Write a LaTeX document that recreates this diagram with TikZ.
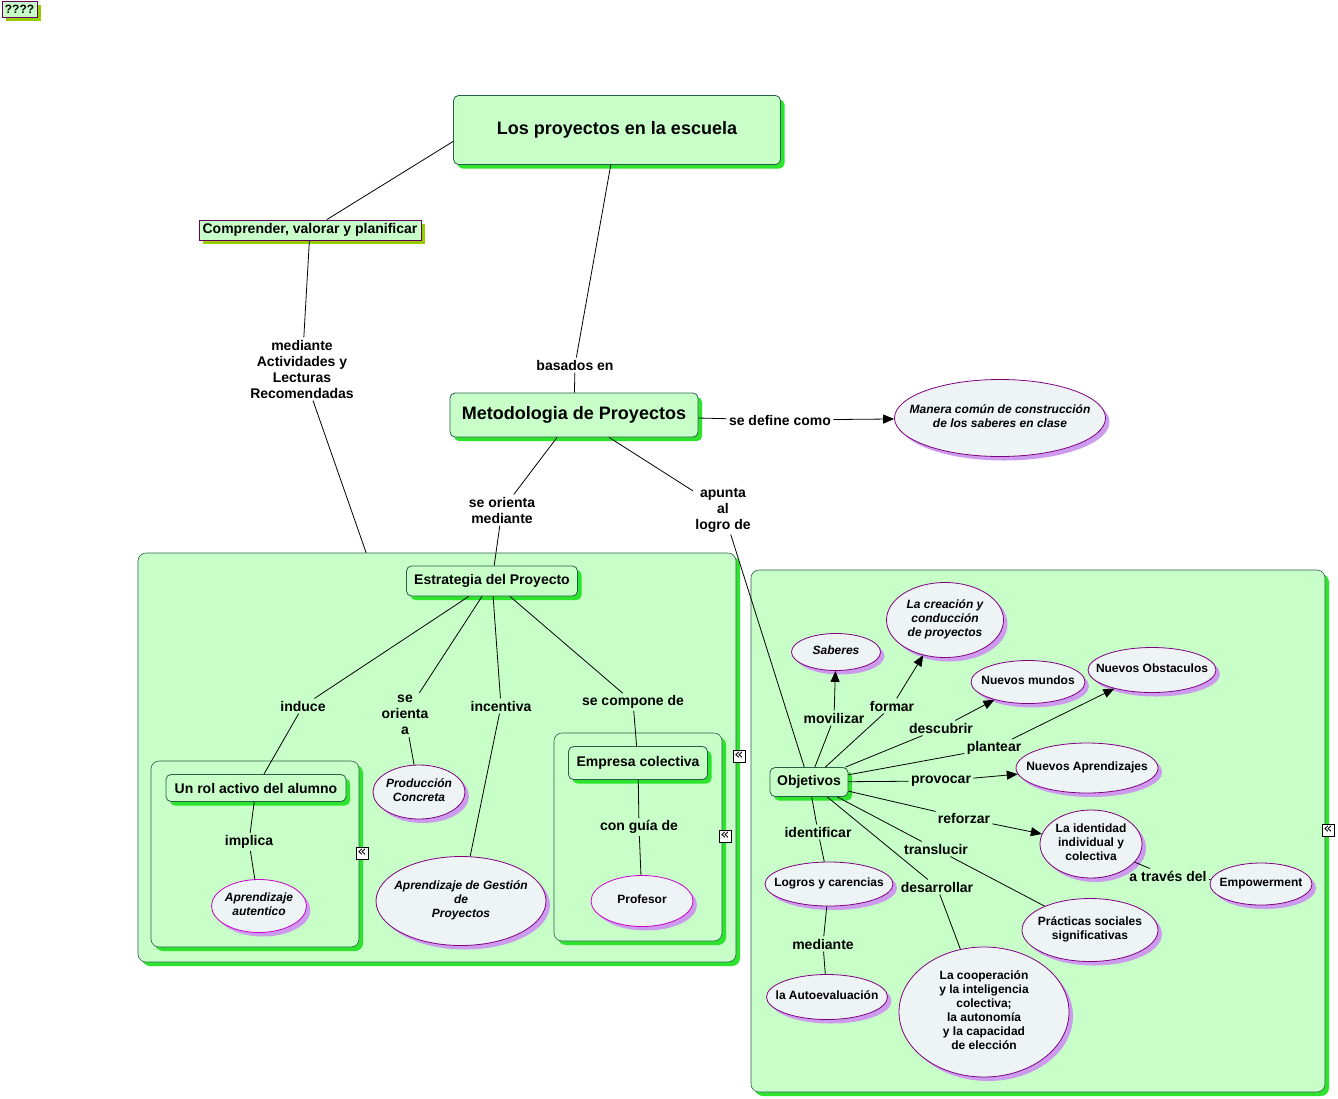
\documentclass[tikz,border=0pt]{standalone}
\usepackage{fontspec}
\setmainfont{Liberation Sans}
\newfontfamily\symfont{DejaVu Sans}
\usepackage{tikz}
\usetikzlibrary{shapes.geometric,shadows,arrows.meta}

\definecolor{conceptfill}{RGB}{200,255,200}
\definecolor{conceptline}{RGB}{40,95,75}
\definecolor{conceptshadow}{RGB}{45,228,45}
\definecolor{ideafill}{RGB}{238,243,246}
\definecolor{idealine}{RGB}{128,0,128}
\definecolor{ideapink}{RGB}{205,0,205}
\definecolor{ideashadow}{RGB}{205,155,238}
\definecolor{tagline}{RGB}{100,0,100}
\definecolor{tagshadow}{RGB}{150,205,0}

\newcommand{\ideatext}[1]{\makebox[0pt]{\begin{tabular}{@{}c@{}}#1\end{tabular}}}

\tikzset{
	concept/.style={draw=conceptline, fill=conceptfill, rounded corners=5pt, line width=0.8pt,
		font=\bfseries\fontsize{14}{16}\selectfont, align=center, inner sep=2pt,
		drop shadow={shadow xshift=4pt, shadow yshift=-4pt, fill=conceptshadow, opacity=1}},
	groupbox/.style={draw=conceptline, fill=conceptfill, rounded corners=8pt, line width=0.6pt, inner sep=0pt,
		drop shadow={shadow xshift=4pt, shadow yshift=-4pt, fill=conceptshadow, opacity=1}},
	tagbox/.style={draw=tagline, fill=conceptfill, line width=0.8pt, inner sep=2pt,
		font=\bfseries\fontsize{14}{16}\selectfont,
		drop shadow={shadow xshift=4pt, shadow yshift=-4pt, fill=tagshadow, opacity=1}},
	idea/.style={ellipse, draw=idealine, fill=ideafill, line width=0.8pt, inner sep=0pt,
		font=\bfseries\fontsize{12}{14}\selectfont,
		drop shadow={shadow xshift=4pt, shadow yshift=-4pt, fill=ideashadow, opacity=1}},
	ideait/.style={idea, font=\bfseries\itshape\fontsize{12}{14}\selectfont},
	linklabel/.style={font=\bfseries\fontsize{14}{16}\selectfont, align=center, inner sep=2pt},
	fold/.style={draw=black, fill=white, line width=0.8pt, minimum size=12pt, inner sep=0pt,
		font=\symfont\fontsize{15}{15}\selectfont},
	arr/.style={-{Triangle[length=11pt,width=9pt]}},
}

\begin{document}
\begin{tikzpicture}[x=1pt,y=-1pt,line width=0.8pt]
		\useasboundingbox (0,0) rectangle (1338,1098);

		% >>> containers
		\node[groupbox, minimum width=598pt, minimum height=409pt] (leftgroup) at (437,757.5) {};
		\node[groupbox, minimum width=574pt, minimum height=522pt] (rightgroup) at (1038,831) {};
		\node[groupbox, minimum width=208pt, minimum height=186pt] (rolgroup) at (255,854) {};
		\node[groupbox, minimum width=168pt, minimum height=208pt] (empresagroup) at (638,837) {};
		\node[fold] (foldrol) at (362,853) {«};
		\node[fold] (foldleft) at (739,756) {«};
		\node[fold] (foldempresa) at (725,836) {«};
		\node[fold] (foldright) at (1328,830) {«};
		% <<< containers

		% >>> concepts
		\node[tagbox, minimum width=35pt, minimum height=16pt, font=\bfseries\fontsize{12}{13}\selectfont] (marca) at (19.5,9) {????};
		\node[tagbox, minimum width=222pt, minimum height=20pt] (comprender) at (310,230) {Comprender, valorar y planificar};
		\node[concept, minimum width=327pt, minimum height=69pt, font=\bfseries\fontsize{18}{20}\selectfont] (escuela) at (617,130) {Los proyectos en la escuela};
		\node[concept, minimum width=248pt, minimum height=44pt, font=\bfseries\fontsize{18}{20}\selectfont] (metodologia) at (574,415) {Metodologia de Proyectos};
		\node[concept, minimum width=171pt, minimum height=30pt] (estrategia) at (492,581) {Estrategia del Proyecto};
		\node[concept, minimum width=180pt, minimum height=27pt] (rol) at (256,788) {Un rol activo del alumno};
		\node[concept, minimum width=139pt, minimum height=33pt] (empresa) at (638,763) {Empresa colectiva};
		\node[concept, minimum width=78pt, minimum height=29pt] (objetivos) at (809,782) {Objetivos};
		% <<< concepts

		% >>> ideas
		\node[ideait, minimum width=211pt, minimum height=77pt] (manera) at (1000,418) {\ideatext{Manera común de construcción\\de los saberes en clase}};
		\node[ideait, minimum width=95pt, minimum height=53pt, draw=ideapink] (autentico) at (259,906) {\ideatext{Aprendizaje\\autentico}};
		\node[ideait, minimum width=92pt, minimum height=54pt] (produccion) at (419,792) {\ideatext{Producción\\Concreta}};
		\node[ideait, minimum width=170pt, minimum height=89pt] (gestion) at (461,901) {\ideatext{Aprendizaje de Gestión\\de\\Proyectos}};
		\node[idea, minimum width=102pt, minimum height=51pt, draw=ideapink] (profesor) at (642,901) {\ideatext{Profesor}};
		\node[ideait, minimum width=89pt, minimum height=37pt] (saberes) at (836,652) {\ideatext{Saberes}};
		\node[ideait, minimum width=117pt, minimum height=75pt] (creacion) at (945,620) {\ideatext{La creación y\\conducción\\de proyectos}};
		\node[idea, minimum width=114pt, minimum height=43pt] (mundos) at (1028,682) {\ideatext{Nuevos mundos}};
		\node[idea, minimum width=128pt, minimum height=45pt] (obstaculos) at (1152,670) {\ideatext{Nuevos Obstaculos}};
		\node[idea, minimum width=142pt, minimum height=50pt] (aprendizajes) at (1087,768) {\ideatext{Nuevos Aprendizajes}};
		\node[idea, minimum width=102pt, minimum height=68pt] (identidad) at (1091,844) {\ideatext{La identidad\\individual y\\colectiva}};
		\node[idea, minimum width=102pt, minimum height=42pt] (empowerment) at (1261,884) {\ideatext{Empowerment}};
		\node[idea, minimum width=136pt, minimum height=63pt] (practicas) at (1090,930) {\ideatext{Prácticas sociales\\significativas}};
		\node[idea, minimum width=170pt, minimum height=130pt] (cooperacion) at (984,1012) {\ideatext{La cooperación\\y la inteligencia\\colectiva;\\la autonomía\\y la capacidad\\de elección}};
		\node[idea, minimum width=128pt, minimum height=44pt] (logros) at (829,884) {\ideatext{Logros y carencias}};
		\node[idea, minimum width=121pt, minimum height=45pt] (autoevaluacion) at (827,997) {\ideatext{la Autoevaluación}};
		% <<< ideas

		% >>> link labels
		\node[linklabel] (lblactividades) at (302,369) {mediante\\Actividades y\\Lecturas\\Recomendadas};
		\node[linklabel] (lblbasados) at (575,365) {basados en};
		\node[linklabel] (lbldefine) at (780,420) {se define como};
		\node[linklabel] (lblorienta) at (502,510) {se orienta\\mediante};
		\node[linklabel] (lblapunta) at (723,510) {apunta\\al\\logro de};
		\node[linklabel] (lblinduce) at (303,706) {induce};
		\node[linklabel] (lblorientaa) at (405,715) {se\\orienta\\a};
		\node[linklabel] (lblincentiva) at (501,706) {incentiva};
		\node[linklabel] (lblcompone) at (633,702) {se compone de};
		\node[linklabel] (lblimplica) at (249,842) {implica};
		\node[linklabel] (lblguia) at (639,827) {con guía de};
		\node[linklabel] (lblmovilizar) at (834,718) {movilizar};
		\node[linklabel] (lblformar) at (892,706) {formar};
		\node[linklabel] (lbldescubrir) at (941,728) {descubrir};
		\node[linklabel] (lblplantear) at (994,748) {plantear};
		\node[linklabel] (lblprovocar) at (941,781) {provocar};
		\node[linklabel] (lblreforzar) at (964,818) {reforzar};
		\node[linklabel] (lbltranslucir) at (936,849) {translucir};
		\node[linklabel] (lbldesarrollar) at (937,887) {desarrollar};
		\node[linklabel] (lblidentificar) at (818,832) {identificar};
		\node[linklabel] (lblmediante) at (823,944) {mediante};
		\node[linklabel] (lbltraves) at (1168,876) {a través del};
		% <<< link labels

		% >>> connectors
		\draw (escuela.184) -- (comprender);
		\draw (comprender) -- (lblactividades);
		\draw (lblactividades) -- (leftgroup);
		\draw (escuela) -- (lblbasados);
		\draw (lblbasados) -- (metodologia);
		\draw (metodologia) -- (lbldefine);
		\draw[arr] (lbldefine) -- (manera);
		\draw (metodologia) -- (lblorienta);
		\draw (lblorienta) -- (estrategia);
		\draw (metodologia) -- (lblapunta);
		\draw (lblapunta) -- (objetivos);

		\draw (estrategia) -- (lblinduce);
		\draw (lblinduce) -- (rol);
		\draw (estrategia) -- (lblorientaa);
		\draw (lblorientaa) -- (produccion);
		\draw (estrategia) -- (lblincentiva);
		\draw (lblincentiva) -- (gestion);
		\draw (estrategia) -- (lblcompone);
		\draw (lblcompone) -- (empresa);
		\draw (rol) -- (lblimplica);
		\draw (lblimplica) -- (autentico);
		\draw (empresa) -- (lblguia);
		\draw (lblguia) -- (profesor);

		\draw (objetivos) -- (lblmovilizar);
		\draw[arr] (lblmovilizar) -- (saberes);
		\draw (objetivos) -- (lblformar);
		\draw[arr] (lblformar) -- (creacion);
		\draw (objetivos) -- (lbldescubrir);
		\draw[arr] (lbldescubrir) -- (mundos);
		\draw (objetivos) -- (lblplantear);
		\draw[arr] (lblplantear) -- (obstaculos);
		\draw (objetivos) -- (lblprovocar);
		\draw[arr] (lblprovocar) -- (aprendizajes);
		\draw (objetivos) -- (lblreforzar);
		\draw[arr] (lblreforzar) -- (identidad);
		\draw (objetivos) -- (lbltranslucir);
		\draw (lbltranslucir) -- (practicas);
		\draw (objetivos) -- (lbldesarrollar);
		\draw (lbldesarrollar) -- (cooperacion);
		\draw (objetivos) -- (lblidentificar);
		\draw (lblidentificar) -- (logros);
		\draw (logros) -- (lblmediante);
		\draw (lblmediante) -- (autoevaluacion);
		\draw (identidad) -- (lbltraves);
		\draw (lbltraves) -- (empowerment);
		% <<< connectors

	\end{tikzpicture}
\end{document}
